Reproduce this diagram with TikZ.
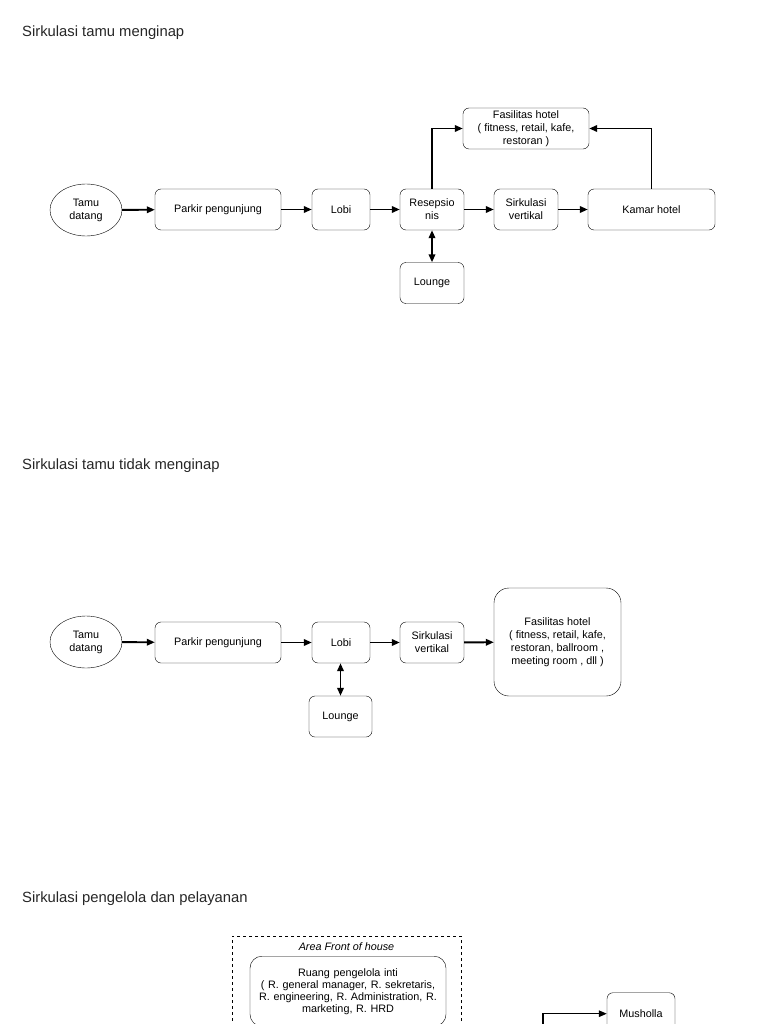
\documentclass[tikz,border=0pt]{standalone}
\usepackage{fontspec}
\setmainfont{Liberation Sans}
\usetikzlibrary{shapes.geometric, arrows.meta, positioning}
\tikzset{
  box/.style={draw=black,rounded corners=6pt,align=center,inner sep=0pt,minimum height=41pt,
    font=\fontsize{10.8}{13}\selectfont},
  oval/.style={draw=black,ellipse,minimum width=72pt,minimum height=52pt,align=center,inner sep=0pt,
    font=\fontsize{10.8}{13}\selectfont},
  flow/.style={-{Triangle[length=8pt,width=6.5pt]},line width=1.9pt},
  flowtipis/.style={-{Triangle[length=8pt,width=6.5pt]},line width=1.2pt},
  both/.style={{Triangle[length=8pt,width=6.5pt]}-{Triangle[length=8pt,width=6.5pt]},line width=1.9pt},
  judul/.style={anchor=west,inner sep=0pt,text=black!85,font=\fontsize{14.8}{17}\selectfont},
}

\begin{document}
\begin{tikzpicture}[x=1pt,y=-1pt]

\useasboundingbox (0,0) rectangle (768,1024);
\clip (0,0) rectangle (768,1024);

% tamu menginap
\node[judul] at (22,33) (judul1) {Sirkulasi tamu menginap};
\node[oval] at (86,210) (tamu1) {Tamu\\datang};
\node[box,minimum width=126pt] at (218,209.5) (parkir1) {Parkir pengunjung};
\node[box,minimum width=58pt] at (341,209.5) (lobi1) {Lobi};
\node[box,minimum width=64pt] at (432,209.5) (resepsi) {Resepsio\\nis};
\node[box,minimum width=64pt] at (526,209.5) (sirkul1) {Sirkulasi\\vertikal};
\node[box,minimum width=127pt] at (651.5,209.5) (kamar) {Kamar hotel};
\node[box,minimum width=126pt] at (526,128.5) (fasil1) {Fasilitas hotel\\( fitness, retail, kafe,\\restoran )};
\node[box,minimum width=64pt] at (432,283) (lounge1) {Lounge};

\draw[flow] (tamu1) -- (parkir1);
\draw[flow] (parkir1) -- (lobi1);
\draw[flow] (lobi1) -- (resepsi);
\draw[flow] (resepsi) -- (sirkul1);
\draw[flow] (sirkul1) -- (kamar);
\draw[flow] (resepsi.north) |- (fasil1.west);
\draw[flow] (kamar.north) |- (fasil1.east);
\draw[both] (resepsi) -- (lounge1);

% tamu tidak menginap
\node[judul] at (22,466) (judul2) {Sirkulasi tamu tidak menginap};
\node[oval] at (86,642) (tamu2) {Tamu\\datang};
\node[box,minimum width=126pt] at (218,642.5) (parkir2) {Parkir pengunjung};
\node[box,minimum width=58pt] at (341,642.5) (lobi2) {Lobi};
\node[box,minimum width=64pt] at (432,642.5) (sirkul2) {Sirkulasi\\vertikal};
\node[box,minimum width=127pt,minimum height=108pt,rounded corners=15pt] at (557.5,642) (fasil2)
  {Fasilitas hotel\\( fitness, retail, kafe,\\restoran, ballroom ,\\meeting room , dll )};
\node[box,minimum width=63pt] at (340.5,716.5) (lounge2) {Lounge};

\draw[flow] (tamu2) -- (parkir2);
\draw[flow] (parkir2) -- (lobi2);
\draw[flow] (lobi2) -- (sirkul2);
\draw[flow] (sirkul2) -- (fasil2);
\draw[both] (lobi2.south -| lounge2.north) -- (lounge2.north);

% pengelola dan pelayanan
\node[judul] at (22,899) (judul3) {Sirkulasi pengelola dan pelayanan};
\node[draw=black,dashed,minimum width=229pt,minimum height=120pt,anchor=north] at (346.5,936) (area) {};
\node[below=6pt of area.north,inner sep=0pt,font=\fontsize{10.8}{12}\selectfont\itshape] (areateks) {Area Front of house};
\node[box,rounded corners=12pt,anchor=north,text width=192pt,inner xsep=2pt,inner ysep=12pt,
  font=\fontsize{10.8}{12}\selectfont] at (348,956) (inti)
  {Ruang pengelola inti\\( R. general manager, R. sekretaris,\\R. engineering, R. Administration, R.\\marketing, R. HRD};
\node[box,minimum width=68pt,minimum height=42pt,anchor=north] at (641,992.5) (mushola) {Musholla};
\coordinate (belok) at (543,1040);
\draw[flowtipis] (belok) |- (mushola.west);

\end{tikzpicture}
\end{document}
